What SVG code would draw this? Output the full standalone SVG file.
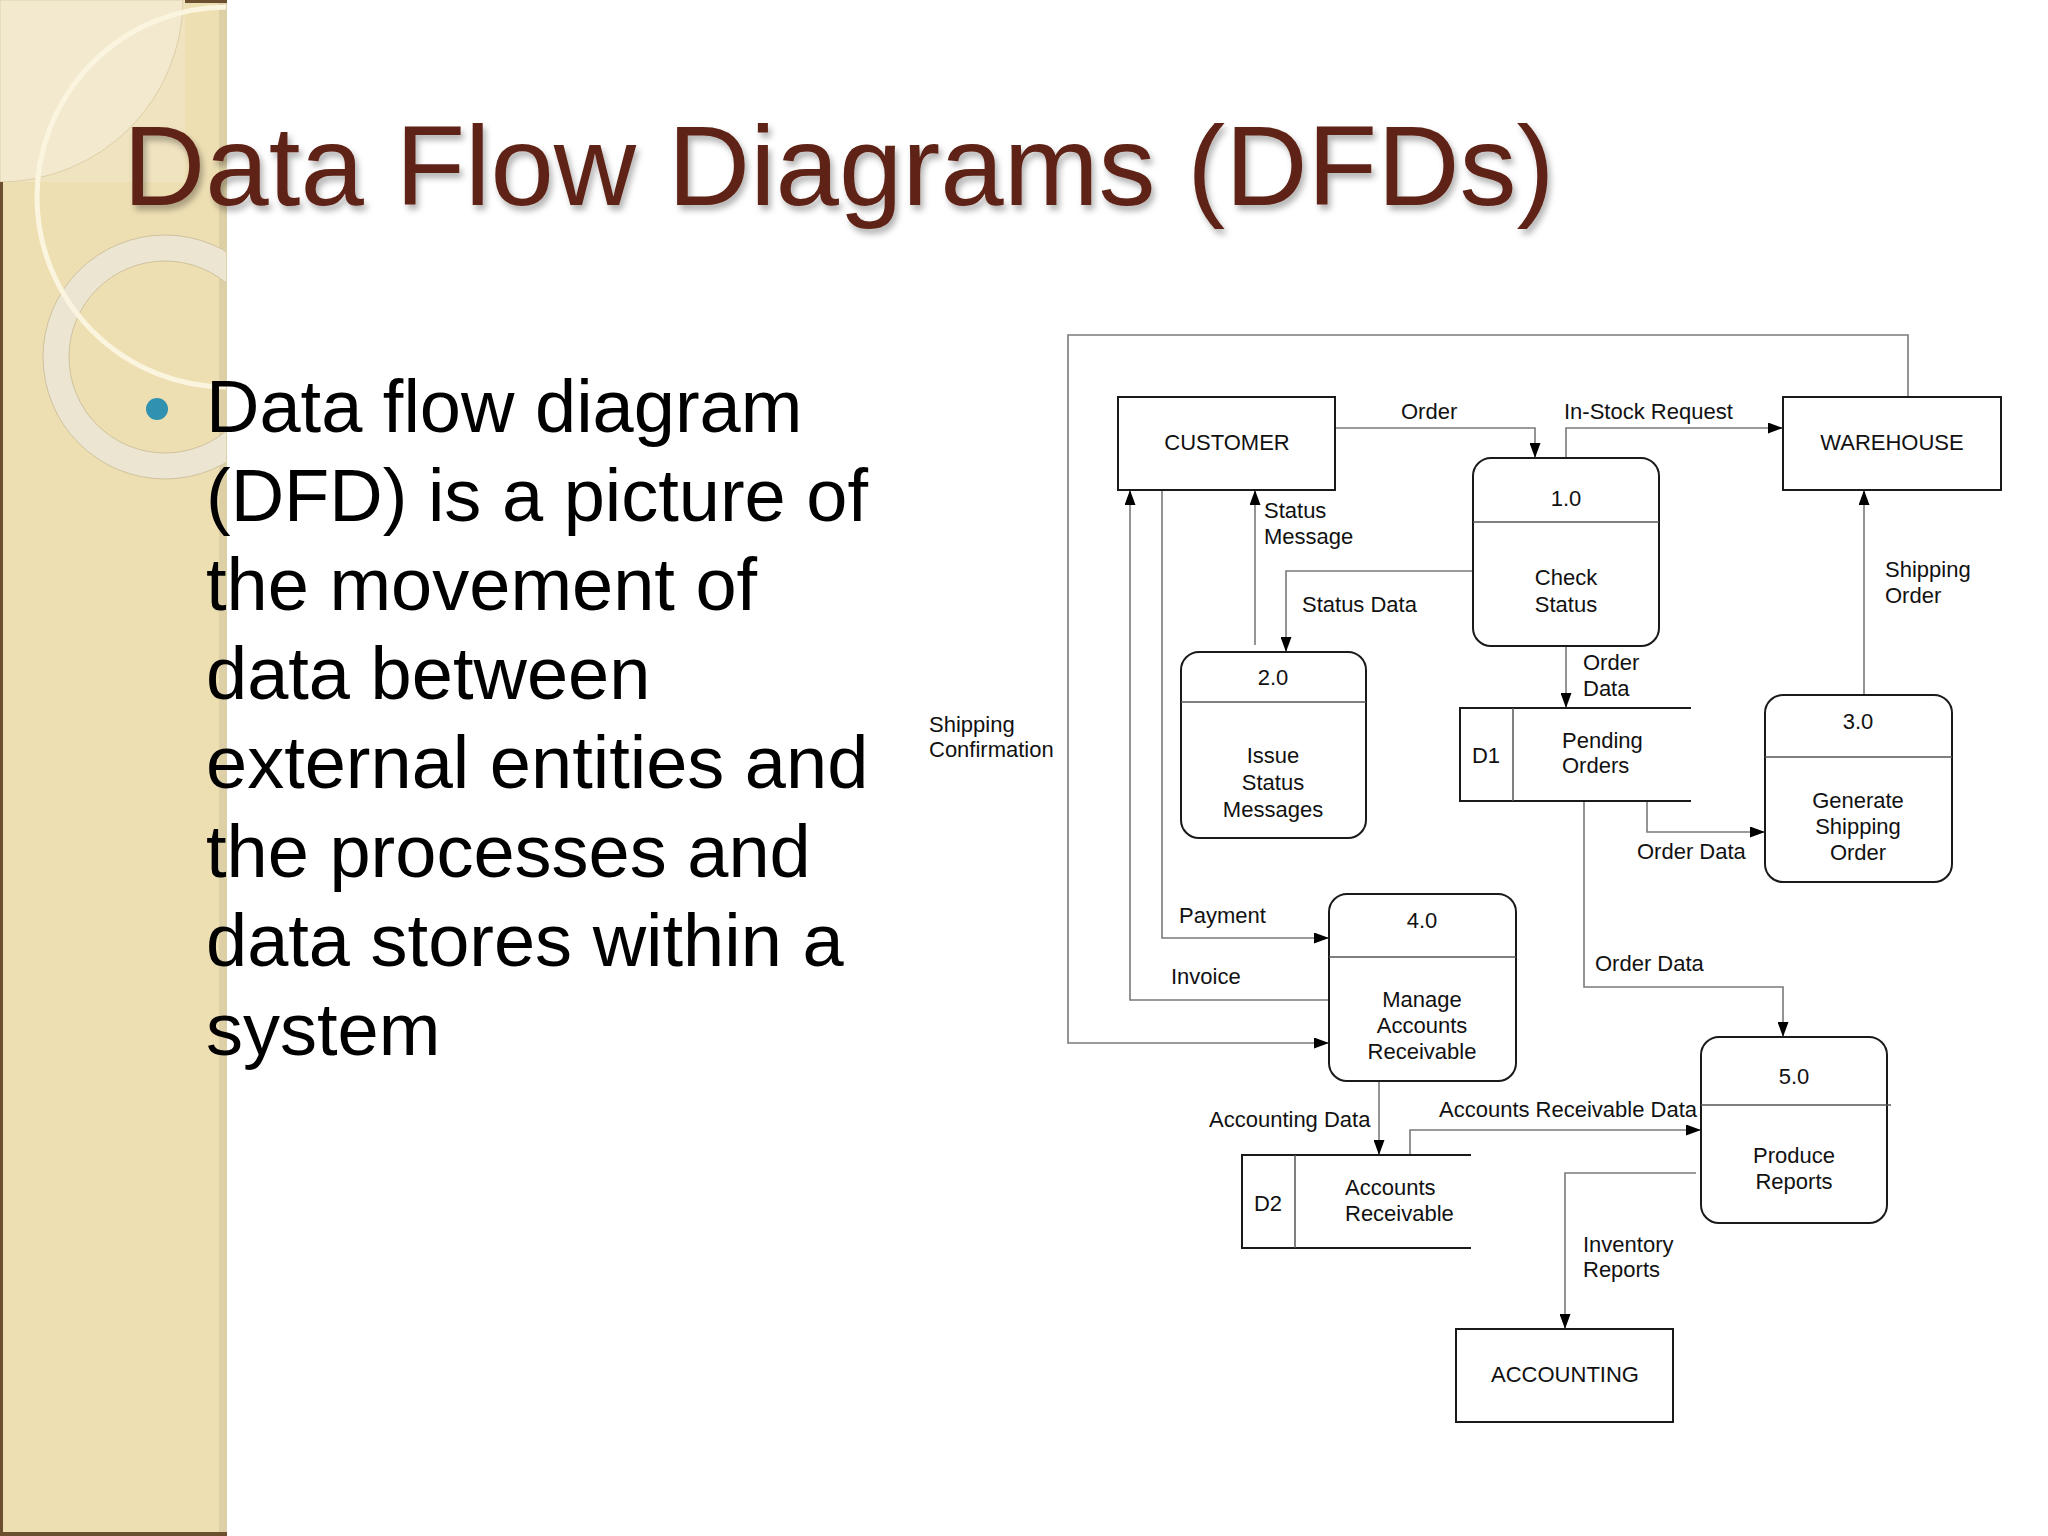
<svg xmlns="http://www.w3.org/2000/svg" width="2048" height="1536" viewBox="0 0 2048 1536">
<defs>
<style>
.box{fill:#fff;stroke:#1a1a1a;stroke-width:2}
.proc{fill:#fff;stroke:#1a1a1a;stroke-width:2}
.div{stroke:#555;stroke-width:1.5;fill:none}
.store{stroke:#1a1a1a;stroke-width:2;fill:none}
.flow{fill:none;stroke:#7a7a7a;stroke-width:1.6}
.t{font-family:"Liberation Sans",Arial,sans-serif;font-size:22px;fill:#111}
.c{text-anchor:middle}
.body{font-family:"Liberation Sans",Arial,sans-serif;font-size:74px;fill:#000}
</style>
<marker id="arr" markerUnits="userSpaceOnUse" markerWidth="15" markerHeight="11" refX="15" refY="5.5" orient="auto">
<path d="M0,0 L15,5.5 L0,11 z" fill="#000"/>
</marker>
<filter id="sh" x="-5%" y="-20%" width="110%" height="150%">
<feDropShadow dx="3" dy="5" stdDeviation="3" flood-color="#000" flood-opacity="0.3"/>
</filter>
<clipPath id="pc"><rect x="0" y="0" width="226" height="1536"/></clipPath>
</defs>
<rect width="2048" height="1536" fill="#fff"/>
<g id="panel">
<rect x="0" y="0" width="227" height="1536" fill="#eedfb3"/>
<rect x="219" y="0" width="8" height="1536" fill="#ddd0a6"/>
<g clip-path="url(#pc)">
<rect x="0" y="0" width="185" height="182" fill="#f0e3bf"/>
<path d="M0,0 H183 A183,183 0 0 1 0,182 Z" fill="#f3e9cf" stroke="#dccfa8" stroke-width="1"/>
<circle cx="165" cy="357" r="109" fill="none" stroke="#ebe5d2" stroke-width="26"/>
<circle cx="165" cy="357" r="122" fill="none" stroke="#cfc29c" stroke-width="1"/>
<circle cx="165" cy="357" r="96" fill="none" stroke="#cfc29c" stroke-width="1"/>
<circle cx="227" cy="197" r="190" fill="none" stroke="#fbf5e0" stroke-width="5"/>
</g>
<rect x="0" y="182" width="3" height="1354" fill="#6b4f2e"/>
<rect x="0" y="1532" width="227" height="4" fill="#6b4f2e"/>
<rect x="185" y="0" width="42" height="3" fill="#6b4f2e"/>
</g>
<g id="title">
<text x="123" y="205" font-family="'Liberation Sans',Arial,sans-serif" font-size="114" fill="#5e2417" filter="url(#sh)">Data Flow Diagrams (DFDs)</text>
</g>
<g id="bullet">
<circle cx="157" cy="409" r="11" fill="#3191b0"/>
<text class="body" x="206" y="432">Data flow diagram</text>
<text class="body" x="206" y="521">(DFD) is a picture of</text>
<text class="body" x="206" y="610">the movement of</text>
<text class="body" x="206" y="699">data between</text>
<text class="body" x="206" y="788">external entities and</text>
<text class="body" x="206" y="877">the processes and</text>
<text class="body" x="206" y="966">data stores within a</text>
<text class="body" x="206" y="1055">system</text>
</g>
<g id="connectors">
<path class="flow" d="M1335,428 H1535 V458" marker-end="url(#arr)"/>
<path class="flow" d="M1566,458 V428 H1783" marker-end="url(#arr)"/>
<path class="flow" d="M1255,645 V490" marker-end="url(#arr)"/>
<path class="flow" d="M1473,571 H1286 V652" marker-end="url(#arr)"/>
<path class="flow" d="M1566,646 V708" marker-end="url(#arr)"/>
<path class="flow" d="M1647,801 V832 H1765" marker-end="url(#arr)"/>
<path class="flow" d="M1864,695 V490" marker-end="url(#arr)"/>
<path class="flow" d="M1908,397 V335 H1068 V1043 H1329" marker-end="url(#arr)"/>
<path class="flow" d="M1162,490 V938 H1329" marker-end="url(#arr)"/>
<path class="flow" d="M1329,1000 H1130 V490" marker-end="url(#arr)"/>
<path class="flow" d="M1584,801 V987 H1783 V1037" marker-end="url(#arr)"/>
<path class="flow" d="M1379,1081 V1155" marker-end="url(#arr)"/>
<path class="flow" d="M1410,1155 V1130 H1701" marker-end="url(#arr)"/>
<path class="flow" d="M1696,1173 H1565 V1329" marker-end="url(#arr)"/>
<text class="t" x="1401" y="419">Order</text>
<text class="t" x="1564" y="419">In-Stock Request</text>
<text class="t" x="1264" y="518">Status</text>
<text class="t" x="1264" y="544">Message</text>
<text class="t" x="1302" y="612">Status Data</text>
<text class="t" x="1583" y="670">Order</text>
<text class="t" x="1583" y="696">Data</text>
<text class="t" x="1637" y="859">Order Data</text>
<text class="t" x="1885" y="577">Shipping</text>
<text class="t" x="1885" y="603">Order</text>
<text class="t" x="929" y="732">Shipping</text>
<text class="t" x="929" y="757">Confirmation</text>
<text class="t" x="1179" y="923">Payment</text>
<text class="t" x="1171" y="984">Invoice</text>
<text class="t" x="1595" y="971">Order Data</text>
<text class="t" x="1209" y="1127">Accounting Data</text>
<text class="t" x="1439" y="1117">Accounts Receivable Data</text>
<text class="t" x="1583" y="1252">Inventory</text>
<text class="t" x="1583" y="1277">Reports</text>
</g>
<g id="customer">
<rect class="box" x="1118" y="397" width="217" height="93"/>
<text class="t c" x="1227" y="450">CUSTOMER</text>
</g>
<g id="warehouse">
<rect class="box" x="1783" y="397" width="218" height="93"/>
<text class="t c" x="1892" y="450">WAREHOUSE</text>
</g>
<g id="accounting">
<rect class="box" x="1456" y="1329" width="217" height="93"/>
<text class="t c" x="1565" y="1382">ACCOUNTING</text>
</g>
<g id="p1">
<rect class="proc" x="1473" y="458" width="186" height="188" rx="18"/>
<line class="div" x1="1473" y1="522" x2="1659" y2="522"/>
<text class="t c" x="1566" y="506">1.0</text>
<text class="t c" x="1566" y="585">Check</text>
<text class="t c" x="1566" y="612">Status</text>
</g>
<g id="p2">
<rect class="proc" x="1181" y="652" width="185" height="186" rx="18"/>
<line class="div" x1="1181" y1="702" x2="1366" y2="702"/>
<text class="t c" x="1273" y="685">2.0</text>
<text class="t c" x="1273" y="763">Issue</text>
<text class="t c" x="1273" y="790">Status</text>
<text class="t c" x="1273" y="817">Messages</text>
</g>
<g id="p3">
<rect class="proc" x="1765" y="695" width="187" height="187" rx="18"/>
<line class="div" x1="1765" y1="757" x2="1952" y2="757"/>
<text class="t c" x="1858" y="729">3.0</text>
<text class="t c" x="1858" y="808">Generate</text>
<text class="t c" x="1858" y="834">Shipping</text>
<text class="t c" x="1858" y="860">Order</text>
</g>
<g id="p4">
<rect class="proc" x="1329" y="894" width="187" height="187" rx="18"/>
<line class="div" x1="1329" y1="957" x2="1516" y2="957"/>
<text class="t c" x="1422" y="928">4.0</text>
<text class="t c" x="1422" y="1007">Manage</text>
<text class="t c" x="1422" y="1033">Accounts</text>
<text class="t c" x="1422" y="1059">Receivable</text>
</g>
<g id="p5">
<rect class="proc" x="1701" y="1037" width="186" height="186" rx="18"/>
<line class="div" x1="1701" y1="1105" x2="1891" y2="1105"/>
<text class="t c" x="1794" y="1084">5.0</text>
<text class="t c" x="1794" y="1163">Produce</text>
<text class="t c" x="1794" y="1189">Reports</text>
</g>
<g id="d1">
<path class="store" d="M1691,708 H1460 V801 H1691"/>
<line class="div" x1="1513" y1="708" x2="1513" y2="801"/>
<text class="t c" x="1486" y="763">D1</text>
<text class="t" x="1562" y="748">Pending</text>
<text class="t" x="1562" y="773">Orders</text>
</g>
<g id="d2">
<path class="store" d="M1471,1155 H1242 V1248 H1471"/>
<line class="div" x1="1295" y1="1155" x2="1295" y2="1248"/>
<text class="t c" x="1268" y="1211">D2</text>
<text class="t" x="1345" y="1195">Accounts</text>
<text class="t" x="1345" y="1221">Receivable</text>
</g>
</svg>
